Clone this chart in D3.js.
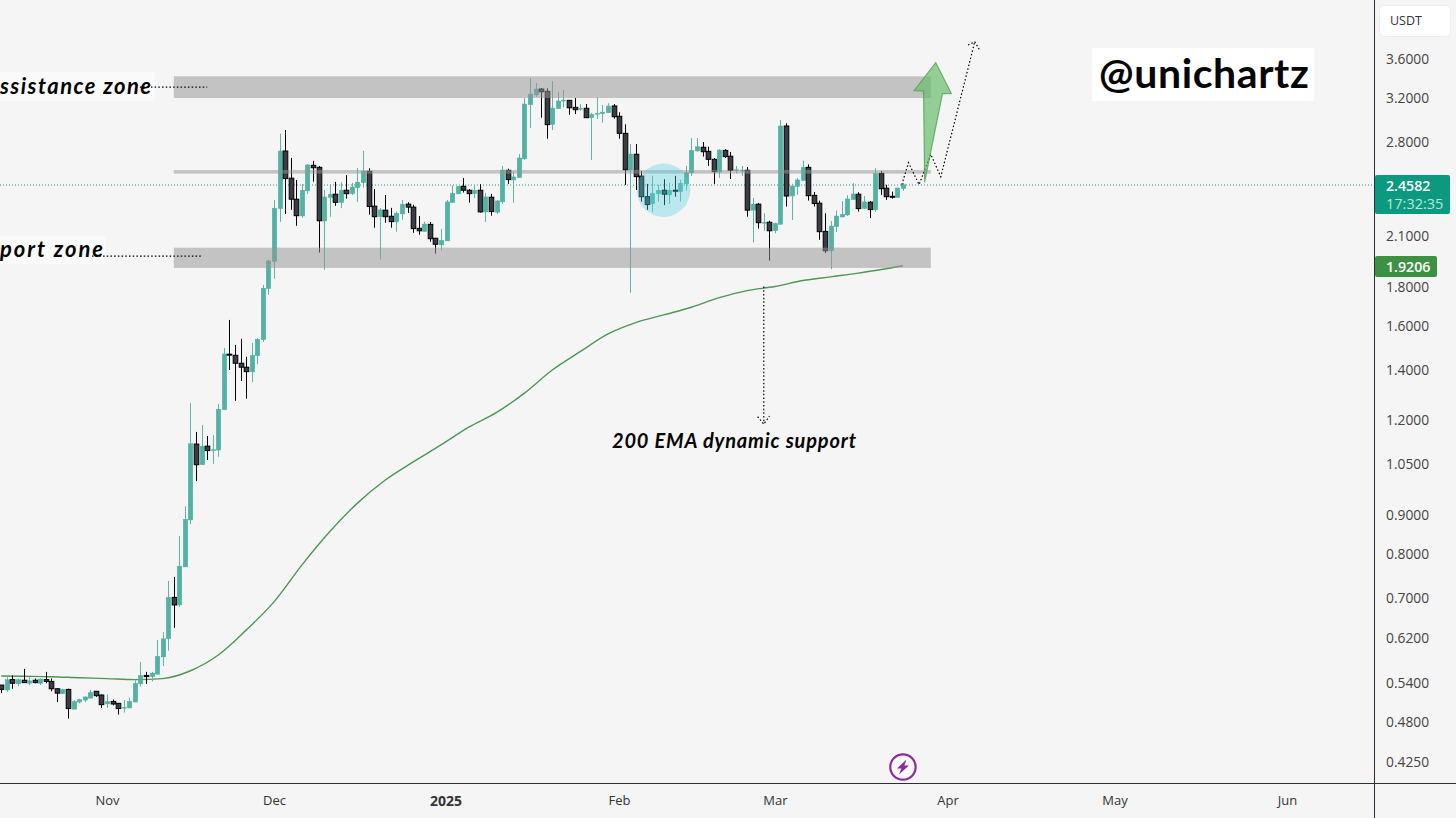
<!DOCTYPE html>
<html><head><meta charset="utf-8">
<script src="https://cdn.jsdelivr.net/npm/d3@7"></script>
<style>
html,body{margin:0;padding:0;background:#f5f5f5;overflow:hidden}
svg{display:block}
</style></head><body><svg id="c" width="1456" height="818"></svg>
<script>
// Daily candles, first candle 2024-10-13
const firstDay = "2024-10-13";
const opens = [
.537,.529,.546,.539,.545,.540,.545,.540,.546,.543,
.531,.523,.530,.499,.510,.513,.516,.527,.521,.507,
.511,.508,.501,.501,.510,.539,.553,.551,.555,.585,
.618,.701,.685,.769,.887,1.117,1.049,1.110,1.096,1.097,
1.240,1.468,1.463,1.428,1.411,1.391,1.461,1.534,1.792,1.945,
2.285,2.722,2.506,2.351,2.234,2.411,2.606,2.590,2.200,2.363,
2.387,2.327,2.416,2.391,2.434,2.472,2.559,2.302,2.229,2.274,
2.232,2.194,2.248,2.316,2.295,2.152,2.132,2.178,2.088,2.046,
2.071,2.327,2.389,2.445,2.416,2.391,2.416,2.262,2.365,2.260,
2.332,2.567,2.493,2.510,2.657,3.133,3.227,3.286,3.263,2.949,
3.095,3.171,3.175,3.108,3.090,3.099,3.012,3.045,3.048,3.057,
3.121,3.025,2.872,2.569,2.695,2.522,2.369,2.318,2.389,2.416,
2.382,2.416,2.406,2.463,2.546,2.722,2.753,2.719,2.654,2.553,
2.727,2.679,2.567,2.564,2.567,2.274,2.316,2.187,2.192,2.136,
2.178,2.937,2.374,2.443,2.488,2.590,2.379,2.323,2.132,2.010,
2.162,2.227,2.241,2.348,2.387,2.285,2.330,2.276,2.543,2.431,
2.372,2.362,2.428];
const highs = [
.537,.550,.553,.548,.564,.550,.548,.548,.559,.548,
.532,.531,.531,.513,.515,.519,.529,.527,.522,.522,
.514,.508,.513,.517,.545,.576,.559,.559,.616,.631,
.737,.746,.845,.925,1.265,1.159,1.184,1.145,1.148,1.262,
1.496,1.629,1.510,1.538,1.456,1.519,1.542,1.812,1.955,2.346,
2.870,2.901,2.665,2.493,2.461,2.617,2.641,2.601,2.418,2.461,
2.478,2.476,2.529,2.471,2.585,2.722,2.583,2.425,2.288,2.381,
2.290,2.264,2.346,2.330,2.311,2.234,2.196,2.194,2.090,2.148,
2.346,2.451,2.448,2.508,2.425,2.456,2.461,2.396,2.389,2.346,
2.601,2.580,2.556,2.697,3.197,3.397,3.346,3.296,3.293,3.367,
3.256,3.276,3.178,3.197,3.140,3.140,3.055,3.204,3.131,3.147,
3.140,3.062,2.952,2.780,2.780,2.561,2.463,2.524,2.456,2.498,
2.471,2.524,2.493,2.601,2.831,2.831,2.797,2.758,2.665,2.736,
2.736,2.714,2.601,2.601,2.593,2.360,2.323,2.253,2.202,2.189,
2.991,2.961,2.463,2.508,2.643,2.614,2.403,2.341,2.253,2.200,
2.271,2.339,2.380,2.468,2.401,2.374,2.339,2.583,2.561,2.456,
2.406,2.433,2.47];
const lows = [
.524,.526,.531,.535,.541,.537,.540,.537,.540,.527,
.510,.523,.485,.499,.508,.510,.516,.518,.501,.501,
.505,.491,.494,.500,.510,.535,.539,.543,.555,.569,
.596,.639,.681,.769,.876,.998,1.048,1.064,1.052,1.075,
1.239,1.399,1.274,1.353,1.282,1.349,1.424,1.524,1.758,1.846,
2.194,2.248,2.276,2.169,2.222,2.387,2.480,1.999,1.897,2.229,
2.304,2.288,2.355,2.382,2.332,2.436,2.243,2.156,1.957,2.189,
2.156,2.130,2.209,2.255,2.123,2.110,2.128,2.066,1.992,2.012,
2.071,2.325,2.389,2.399,2.327,2.360,2.257,2.194,2.236,2.248,
2.318,2.463,2.327,2.510,2.651,2.919,3.208,3.012,2.825,2.901,
3.095,3.108,3.039,3.045,3.076,3.012,2.649,3.000,2.967,3.055,
3.003,2.825,2.456,1.770,2.418,2.334,2.276,2.262,2.334,2.309,
2.318,2.369,2.334,2.413,2.524,2.716,2.676,2.601,2.463,2.508,
2.665,2.500,2.543,2.524,2.229,2.061,2.150,2.136,1.951,2.119,
2.178,2.299,2.207,2.382,2.485,2.341,2.299,2.078,1.996,1.901,
2.128,2.227,2.234,2.348,2.264,2.283,2.220,2.262,2.382,2.346,
2.355,2.362,2.411];
const closes = [
.530,.546,.540,.546,.541,.544,.541,.547,.543,.531,
.524,.530,.500,.511,.514,.518,.525,.520,.506,.511,
.507,.500,.502,.511,.540,.553,.551,.557,.586,.618,
.701,.685,.771,.889,1.118,1.049,1.110,1.095,1.098,1.242,
1.469,1.466,1.428,1.411,1.392,1.463,1.536,1.794,1.949,2.288,
2.722,2.503,2.351,2.236,2.416,2.609,2.587,2.202,2.367,2.387,
2.329,2.416,2.391,2.440,2.476,2.561,2.299,2.229,2.276,2.229,
2.196,2.253,2.316,2.295,2.150,2.136,2.180,2.085,2.050,2.075,
2.332,2.394,2.445,2.416,2.391,2.416,2.262,2.367,2.264,2.339,
2.569,2.495,2.516,2.665,3.140,3.237,3.286,3.259,2.949,3.102,
3.169,3.178,3.104,3.086,3.099,3.012,3.043,3.052,3.064,3.121,
3.021,2.872,2.571,2.697,2.518,2.369,2.313,2.394,2.416,2.387,
2.416,2.409,2.468,2.548,2.727,2.758,2.716,2.654,2.556,2.730,
2.676,2.567,2.571,2.569,2.274,2.316,2.189,2.192,2.136,2.185,
2.937,2.374,2.448,2.493,2.590,2.376,2.320,2.130,2.010,2.167,
2.234,2.246,2.353,2.389,2.285,2.332,2.278,2.543,2.427,2.369,
2.365,2.433,2.4582];

// 200 EMA: days counted from 2024-11-01, and values
const emaDays = [-19,-15,-10,-5,0,5,10,15,20,25,30,35,40,45,50,55,60,65,70,75,80,85,90,95,100,105,110,115,120,125,130,135,143];
const emaValues = [.5520,.5515,.5508,.5491,.5477,.5460,.5477,.5609,.5883,.6346,.6915,.7733,.8557,.9335,1.0014,1.058,1.114,1.176,1.230,1.304,1.399,1.479,1.561,1.616,1.654,1.693,1.743,1.781,1.803,1.836,1.857,1.878,1.9206];

// Axis ticks
const priceTicks = [3.6,3.2,2.8,2.1,1.8,1.6,1.4,1.2,1.05,0.9,0.8,0.7,0.62,0.54,0.48,0.425];
const dateTicks = ["2024-11-01","2024-12-01","2025-01-01","2025-02-01","2025-03-01","2025-04-01","2025-05-01","2025-06-01"];
const dateTickLabels = ["Nov","Dec","2025","Feb","Mar","Apr","May","Jun"];

// Horizontal zones [top price, bottom price]; days from 2024-11-01 for their span
const zoneDays = [12,148];
const resistanceZone = [3.4156,3.1975];
const middleZone = [2.569,2.541];
const supportZone = [2.029,1.908];

// Drawn annotations as [days from 2024-11-01, price]
const greenArrow = [[148.9,3.56],[145,3.27],[146.7,3.267],[146.9,2.476],[150.1,3.24],[151.7,3.24]];
const projection = [[142.8,2.458],[144,2.627],[145.9,2.458],[148,2.695],[149.8,2.517],[155.9,3.794]];
const projectionHead = [[154.7,3.757],[155.9,3.794],[156.7,3.708]];
const resistanceLeader = [[5.9,3.306],[18,3.306]];
const supportLeader = [[-2.7,1.978],[16.9,1.978]];
const emaPointer = [[118,1.803],[118,1.187]];
const emaPointerHead = [[116.9,1.214],[118,1.187],[119,1.216]];
const highlight = [100,2.416];
const lastPrice = 2.4582, lastEma = 1.9206;
const boltDay = 143;

const teal = "#53b2a3", tealWick = "#5db4a8", ink = "#000", dark = "#3a3d46";
const uiFont = "'Open Sans','Noto Sans',sans-serif";
const noteFont = "Lato,'Open Sans',sans-serif";

const svg = d3.select("#c");
const chartRight = 1374, axisY = 783;
const nov1 = Date.UTC(2024,10,1);
const x = d3.scaleUtc().domain([new Date("2024-11-01"),new Date("2025-06-01")]).range([107,1287]);
const y = d3.scaleLog().domain([3.6,0.48]).range([59,722]);
const dx = k => x(new Date(nov1+k*864e5));
const pt = d => [dx(d[0]),y(d[1])];
const start = new Date(firstDay);
const candles = opens.map((o,i)=>({date:d3.utcDay.offset(start,i),o,h:highs[i],l:lows[i],c:closes[i]}));

svg.append("defs").append("clipPath").attr("id","plot").append("rect")
  .attr("width",chartRight).attr("height",axisY);

// Note boxes sit under everything else
svg.append("rect").attr("x",0).attr("y",72).attr("width",155).attr("height",29).attr("fill","#fafafa");
svg.append("rect").attr("x",0).attr("y",236).attr("width",106).attr("height",28).attr("fill","#fafafa");

const plot = svg.append("g").attr("clip-path","url(#plot)");

// Last price line
plot.append("line").attr("x1",0).attr("x2",chartRight).attr("y1",y(lastPrice)+.5).attr("y2",y(lastPrice)+.5)
  .attr("stroke","#1c9c85").attr("stroke-width",1).attr("stroke-dasharray","1 2");

// EMA
plot.append("path").datum(emaDays.map((d,i)=>[d,emaValues[i]]))
  .attr("fill","none").attr("stroke","#4d9656").attr("stroke-width",1.4)
  .attr("d",d3.line().x(d=>dx(d[0])).y(d=>y(d[1])).curve(d3.curveMonotoneX));

// Candles
const bw = 4.6;
const cg = plot.append("g");
cg.selectAll("line.w").data(candles).join("line").attr("class","w")
  .attr("x1",d=>Math.round(x(d.date))+.5).attr("x2",d=>Math.round(x(d.date))+.5)
  .attr("y1",d=>y(d.h)).attr("y2",d=>y(d.l))
  .attr("stroke",d=>d.c>=d.o?tealWick:ink).attr("stroke-width",1);
cg.selectAll("rect.b").data(candles).join("rect").attr("class","b")
  .attr("x",d=>Math.round(x(d.date))+.5-bw/2).attr("width",bw)
  .attr("y",d=>y(Math.max(d.o,d.c))).attr("height",d=>Math.max(1,Math.abs(y(d.o)-y(d.c))))
  .attr("fill",d=>d.c>=d.o?teal:dark)
  .attr("stroke",d=>d.c>=d.o?teal:ink).attr("stroke-width",d=>d.c>=d.o?.4:1);

// Zones over candles
[resistanceZone,middleZone,supportZone].forEach(z=>{
  plot.append("rect").attr("x",dx(zoneDays[0])).attr("width",dx(zoneDays[1])-dx(zoneDays[0]))
    .attr("y",y(z[0])).attr("height",y(z[1])-y(z[0])).attr("fill","rgba(150,150,150,.52)");
});

// Highlight circle
plot.append("circle").attr("cx",dx(highlight[0])).attr("cy",y(highlight[1])).attr("r",26.7)
  .attr("fill","rgba(77,208,225,.35)");

// Dotted annotations
const ln = d3.line();
const dotted = (pts)=>plot.append("path").attr("d",ln(pts.map(pt))).attr("fill","none")
  .attr("stroke","#000").attr("stroke-width",1.2).attr("stroke-dasharray","1.5 2.2");
dotted(projection); dotted(projectionHead); dotted(resistanceLeader); dotted(supportLeader);
dotted(emaPointer); dotted(emaPointerHead);

// Green arrow
plot.append("path").attr("d",ln(greenArrow.map(pt))+"Z")
  .attr("fill","rgba(102,187,106,.68)").attr("stroke","rgba(76,160,80,.75)").attr("stroke-width",1.2);

// Note texts: only the part visible in the picture
const note = (t,xx,yy,size,len,weight)=>svg.append("text").attr("x",xx).attr("y",yy).text(t)
  .attr("font-family",noteFont).attr("font-size",size).attr("textLength",len).attr("lengthAdjust","spacing")
  .attr("font-style","italic").attr("font-weight",weight).attr("fill","#050505");
note("ssistance zone",0,94,22,151,700);
note("port zone",0,257,22,103,700);
note("200 EMA dynamic support",612,448,20,244,700);

// Watermark
svg.append("rect").attr("x",1092).attr("y",48).attr("width",222).attr("height",53).attr("fill","#fff");
svg.append("text").attr("x",1099).attr("y",88).text("@unichartz").attr("font-family",noteFont)
  .attr("font-size",41).attr("font-weight",700).attr("fill","#060606").attr("letter-spacing",.6);

// Axes
const yAxis = d3.axisRight(y).tickValues(priceTicks).tickSize(0).tickPadding(12).tickFormat(d3.format(".4f"));
const ya = svg.append("g").attr("transform",`translate(${chartRight},0)`).call(yAxis);
ya.select(".domain").remove();
ya.selectAll("text").attr("font-family",uiFont).attr("font-size",13.8).attr("fill","#444");
svg.append("line").attr("x1",chartRight+.5).attr("x2",chartRight+.5).attr("y1",0).attr("y2",818).attr("stroke","#2a2e39");

const tickDates = dateTicks.map(d=>new Date(d));
const xAxis = d3.axisBottom(x).tickValues(tickDates).tickSize(0).tickPadding(13)
  .tickFormat((d,i)=>dateTickLabels[i]);
const xa = svg.append("g").attr("transform",`translate(0,${axisY})`).call(xAxis);
xa.select(".domain").remove();
xa.selectAll("text").attr("font-family",uiFont).attr("fill","#333")
  .attr("font-size",(d,i)=>dateTickLabels[i]==="2025"?14:13)
  .attr("font-weight",(d,i)=>dateTickLabels[i]==="2025"?700:400);
xa.selectAll("text").filter((d,i)=>dateTickLabels[i]==="2025").attr("dx",-1);
svg.append("line").attr("x1",0).attr("x2",1456).attr("y1",axisY+.5).attr("y2",axisY+.5).attr("stroke","#2a2e39");

// USDT box
svg.append("rect").attr("x",1379.5).attr("y",5.5).attr("width",71).attr("height",31).attr("rx",5)
  .attr("fill","#fff").attr("stroke","#eee");
svg.append("text").attr("x",1390).attr("y",25).text("USDT").attr("font-family",uiFont)
  .attr("font-size",12.5).attr("fill","#333");

// Price tags
svg.append("rect").attr("x",1375).attr("y",175).attr("width",75).attr("height",39).attr("rx",2).attr("fill","#0b9a7f");
svg.append("text").attr("x",1386).attr("y",191).text(d3.format(".4f")(lastPrice)).attr("font-family",uiFont)
  .attr("font-size",14.2).attr("font-weight",600).attr("fill","#fff");
svg.append("text").attr("x",1386).attr("y",209).text("17:32:35").attr("font-family",uiFont)
  .attr("font-size",14.5).attr("fill","#b9e6db");
svg.append("rect").attr("x",1375).attr("y",256).attr("width",62).attr("height",21).attr("rx",2).attr("fill","#3d9142");
svg.append("text").attr("x",1386).attr("y",272).text(d3.format(".4f")(lastEma)).attr("font-family",uiFont)
  .attr("font-size",14.2).attr("font-weight",600).attr("fill","#fff");

// Lightning mark
const ic = svg.append("g").attr("transform",`translate(${dx(boltDay)},767)`);
ic.append("circle").attr("r",12.7).attr("fill","#f8f8f8").attr("stroke","#8e2ba0").attr("stroke-width",2.2);
ic.append("path").attr("d","M3.5-7.5L-6,1.5H-1.5L-4,7.5L6,-1.5H1.5Z").attr("fill","#8e2ba0");
</script></body></html>
